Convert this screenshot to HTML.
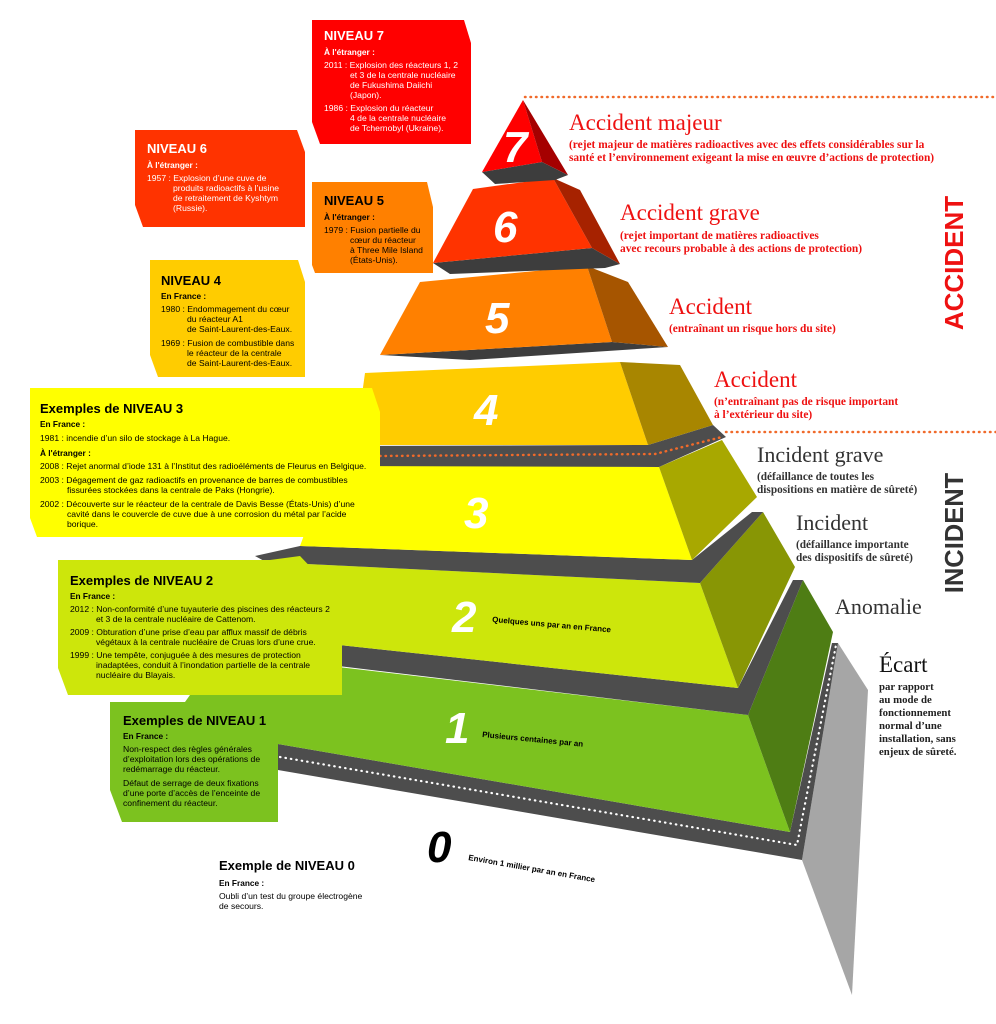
<!DOCTYPE html>
<html><head><meta charset="utf-8"><style>
html,body{margin:0;padding:0;background:#fff}
svg{display:block}
.s{font-family:"Liberation Sans",sans-serif}
.r{font-family:"Liberation Serif",serif}
.t{font-size:13px;font-weight:bold}
.h{font-size:8.3px;font-weight:bold}
.b{font-size:8.6px}
.n{font-family:"Liberation Sans",sans-serif;font-weight:bold;font-style:italic;font-size:44px;fill:#fff}
</style></head><body>
<svg width="996" height="1024" viewBox="0 0 996 1024" xmlns="http://www.w3.org/2000/svg">
<line x1="525" y1="97" x2="996" y2="97" stroke="#f06a2a" stroke-width="2.5" stroke-dasharray="0.5 5" stroke-linecap="round"/>

<polygon points="838,643 868,690 852,995 802,860" fill="#a6a6a6"/>
<polygon points="278,744 790,832 832,643 838,643 802,860 278,770" fill="#4d4d4d"/>
<polyline points="280,757 797,845 836,645" fill="none" stroke="#fff" stroke-width="2.2" stroke-dasharray="0.5 5" stroke-linecap="round"/>
<polygon points="278,660 748,715 790,832 278,744" fill="#7cc21f"/>
<polygon points="803,580 833,632 790,832 748,715" fill="#4e7d14"/>
<polygon points="330,644 738,688 793,580 803,580 748,715 330,665" fill="#4d4d4d"/>
<polygon points="266,562 700,583 738,688 330,644 266,640" fill="#cde60b"/>
<polygon points="763,512 795,567 738,688 700,583" fill="#889605"/>
<polygon points="255,556 300,546 692,560 752,512 763,512 700,583 266,562" fill="#4d4d4d"/>
<polygon points="330,464 659,467 692,560 300,546" fill="#ffff00"/>
<polygon points="659,467 722,440 757,497 692,560" fill="#a8a800"/>
<polygon points="360,446 648,445 713,425 726,437 659,467 360,466" fill="#4d4d4d"/>
<polyline points="380,456 655,454 722,437" fill="none" stroke="#f06a2a" stroke-width="2.5" stroke-dasharray="0.5 5" stroke-linecap="round"/>
<line x1="726" y1="432" x2="996" y2="432" stroke="#f06a2a" stroke-width="2.5" stroke-dasharray="0.5 5" stroke-linecap="round"/>
<polygon points="365,373 620,362 648,445 355,445" fill="#ffcc00"/>
<polygon points="620,362 680,365 713,425 648,445" fill="#a88600"/>
<polygon points="380,355 612,342 668,347 470,360" fill="#3d3d3d"/>
<polygon points="420,282 587,266 612,342 380,355" fill="#ff8000"/>
<polygon points="587,266 628,282 668,347 612,342" fill="#a65500"/>
<polygon points="433,263 592,248 620,264 605,268 450,274" fill="#3d3d3d"/>
<polygon points="473,189 553,178 592,248 433,263" fill="#ff3300"/>
<polygon points="553,178 580,190 620,264 592,248" fill="#a62200"/>
<polygon points="482,172 542,162 568,175 555,180 495,184" fill="#3d3d3d"/>
<polygon points="523,100 482,172 542,162" fill="#ff0000"/>
<polygon points="523,100 542,162 568,175" fill="#a50000"/>

<text class="n" x="503" y="162">7</text>
<text class="n" x="493" y="242">6</text>
<text class="n" x="485" y="333">5</text>
<text class="n" x="474" y="425">4</text>
<text class="n" x="464" y="528">3</text>
<text class="n" x="452" y="632">2</text>
<text class="n" x="445" y="743">1</text>
<text class="n" x="427" y="862" style="fill:#000">0</text>
<text class="s" font-size="8" font-weight="bold" transform="translate(492,622) rotate(5)">Quelques uns par an en France</text>
<text class="s" font-size="8" font-weight="bold" transform="translate(482,737) rotate(5.5)">Plusieurs centaines par an</text>
<text class="s" font-size="8" font-weight="bold" transform="translate(468,860) rotate(10)">Environ 1 millier par an en France</text>

<polygon points="312,20 464,20 471,43 471,144 320,144 312,122" fill="#ff0000"/>
<g class="s" fill="#fff">
<text class="t" x="324" y="40" font-size="14">NIVEAU 7</text>
<text class="h" x="324" y="55">À l'étranger :</text>
<text class="b" x="324" y="68">2011 : Explosion des réacteurs 1, 2</text>
<text class="b" x="350" y="78">et 3 de la centrale nucléaire</text>
<text class="b" x="350" y="88">de Fukushima Daiichi</text>
<text class="b" x="350" y="98">(Japon).</text>
<text class="b" x="324" y="111">1986 : Explosion du réacteur</text>
<text class="b" x="350" y="121">4 de la centrale nucléaire</text>
<text class="b" x="350" y="131">de Tchernobyl (Ukraine).</text>
</g>
<polygon points="135,130 297,130 305,152 305,227 143,227 135,205" fill="#ff3300"/>
<g class="s" fill="#fff">
<text class="t" x="147" y="153" font-size="14">NIVEAU 6</text>
<text class="h" x="147" y="168">À l'étranger :</text>
<text class="b" x="147" y="181">1957 : Explosion d’une cuve de</text>
<text class="b" x="173" y="191">produits radioactifs à l’usine</text>
<text class="b" x="173" y="201">de retraitement de Kyshtym</text>
<text class="b" x="173" y="211">(Russie).</text>
</g>
<polygon points="312,182 427,182 433,207 433,273 315,273 312,265" fill="#ff8000"/>
<g class="s" fill="#000">
<text class="t" x="324" y="205" font-size="14">NIVEAU 5</text>
<text class="h" x="324" y="220">À l'étranger :</text>
<text class="b" x="324" y="233">1979 : Fusion partielle du</text>
<text class="b" x="350" y="243">cœur du réacteur</text>
<text class="b" x="350" y="253">à Three Mile Island</text>
<text class="b" x="350" y="263">(États-Unis).</text>
</g>
<polygon points="150,260 298,260 305,282 305,377 158,377 150,355" fill="#ffcc00"/>
<g class="s" fill="#000">
<text class="t" x="161" y="285" font-size="14">NIVEAU 4</text>
<text class="h" x="161" y="299">En France :</text>
<text class="b" x="161" y="312">1980 : Endommagement du cœur</text>
<text class="b" x="187" y="322">du réacteur A1</text>
<text class="b" x="187" y="332">de Saint-Laurent-des-Eaux.</text>
<text class="b" x="161" y="346">1969 : Fusion de combustible dans</text>
<text class="b" x="187" y="356">le réacteur de la centrale</text>
<text class="b" x="187" y="366">de Saint-Laurent-des-Eaux.</text>
</g>
<polygon points="30,388 372,388 380,412 380,537 37,537 30,518" fill="#ffff00"/>
<g class="s" fill="#000">
<text class="t" x="40" y="413" font-size="13.5">Exemples de NIVEAU 3</text>
<text class="h" x="40" y="427">En France :</text>
<text class="b" x="40" y="441">1981 : incendie d’un silo de stockage à La Hague.</text>
<text class="h" x="40" y="456">À l'étranger :</text>
<text class="b" x="40" y="469">2008 : Rejet anormal d’iode 131 à l’Institut des radioéléments de Fleurus en Belgique.</text>
<text class="b" x="40" y="483">2003 : Dégagement de gaz radioactifs en provenance de barres de combustibles</text>
<text class="b" x="67" y="493">fissurées stockées dans la centrale de Paks (Hongrie).</text>
<text class="b" x="40" y="507">2002 : Découverte sur le réacteur de la centrale de Davis Besse (États-Unis) d’une</text>
<text class="b" x="67" y="517">cavité dans le couvercle de cuve due à une corrosion du métal par l’acide</text>
<text class="b" x="67" y="527">borique.</text>
</g>
<polygon points="58,560 270,560 300,556 342,600 342,695 68,695 58,668" fill="#cde60b"/>
<g class="s" fill="#000">
<text class="t" x="70" y="585" font-size="13.5">Exemples de NIVEAU 2</text>
<text class="h" x="70" y="599">En France :</text>
<text class="b" x="70" y="612">2012 : Non-conformité d’une tuyauterie des piscines des réacteurs 2</text>
<text class="b" x="96" y="622">et 3 de la centrale nucléaire de Cattenom.</text>
<text class="b" x="70" y="635">2009 : Obturation d’une prise d’eau par afflux massif de débris</text>
<text class="b" x="96" y="645">végétaux à la centrale nucléaire de Cruas lors d’une crue.</text>
<text class="b" x="70" y="658">1999 : Une tempête, conjuguée à des mesures de protection</text>
<text class="b" x="96" y="668">inadaptées, conduit à l’inondation partielle de la centrale</text>
<text class="b" x="96" y="678">nucléaire du Blayais.</text>
</g>
<polygon points="110,702 185,702 190,695 278,695 278,822 122,822 110,790" fill="#7cc21f"/>
<g class="s" fill="#000">
<text class="t" x="123" y="725" font-size="13.5">Exemples de NIVEAU 1</text>
<text class="h" x="123" y="739">En France :</text>
<text class="b" x="123" y="752">Non-respect des règles générales</text>
<text class="b" x="123" y="762">d’exploitation lors des opérations de</text>
<text class="b" x="123" y="772">redémarrage du réacteur.</text>
<text class="b" x="123" y="786">Défaut de serrage de deux fixations</text>
<text class="b" x="123" y="796">d’une porte d’accès de l’enceinte de</text>
<text class="b" x="123" y="806">confinement du réacteur.</text>
</g>
<g class="s" fill="#000">
<text class="t" x="219" y="870" font-size="13.5">Exemple de NIVEAU 0</text>
<text class="h" x="219" y="886">En France :</text>
<text class="b" x="219" y="899">Oubli d’un test du groupe électrogène</text>
<text class="b" x="219" y="909">de secours.</text>
</g>

<g class="r" fill="#ee1111">
<text x="569" y="130" font-size="23">Accident majeur</text>
<text x="569" y="148" font-size="11.4" font-weight="bold">(rejet majeur de matières radioactives avec des effets considérables sur la</text>
<text x="569" y="161" font-size="11.4" font-weight="bold">santé et l’environnement exigeant la mise en œuvre d’actions de protection)</text>
<text x="620" y="220" font-size="23">Accident grave</text>
<text x="620" y="239" font-size="11.4" font-weight="bold">(rejet important de matières radioactives</text>
<text x="620" y="252" font-size="11.4" font-weight="bold">avec recours probable à des actions de protection)</text>
<text x="669" y="314" font-size="23">Accident</text>
<text x="669" y="332" font-size="11.4" font-weight="bold">(entraînant un risque hors du site)</text>
<text x="714" y="387" font-size="23">Accident</text>
<text x="714" y="405" font-size="11.4" font-weight="bold">(n’entraînant pas de risque important</text>
<text x="714" y="418" font-size="11.4" font-weight="bold">à l’extérieur du site)</text>
</g>
<text class="s" font-size="26" font-weight="bold" fill="#ee1111" text-anchor="middle" transform="translate(963,263) rotate(-90)">ACCIDENT</text>
<g class="r" fill="#333">
<text x="757" y="462" font-size="22">Incident grave</text>
<text x="757" y="480" font-size="11.3" font-weight="bold">(défaillance de toutes les</text>
<text x="757" y="493" font-size="11.3" font-weight="bold">dispositions en matière de sûreté)</text>
<text x="796" y="530" font-size="22">Incident</text>
<text x="796" y="548" font-size="11.3" font-weight="bold">(défaillance importante</text>
<text x="796" y="561" font-size="11.3" font-weight="bold">des dispositifs de sûreté)</text>
<text x="835" y="614" font-size="22">Anomalie</text>
<text x="879" y="672" font-size="23" fill="#111">Écart</text>
<g font-size="10.8" font-weight="bold" fill="#222">
<text x="879" y="690">par rapport</text>
<text x="879" y="703">au mode de</text>
<text x="879" y="716">fonctionnement</text>
<text x="879" y="729">normal d’une</text>
<text x="879" y="742">installation, sans</text>
<text x="879" y="755">enjeux de sûreté.</text>
</g>
</g>
<text class="s" font-size="25.5" font-weight="bold" fill="#333" text-anchor="middle" transform="translate(963,533) rotate(-90)">INCIDENT</text>
</svg>
</body></html>
